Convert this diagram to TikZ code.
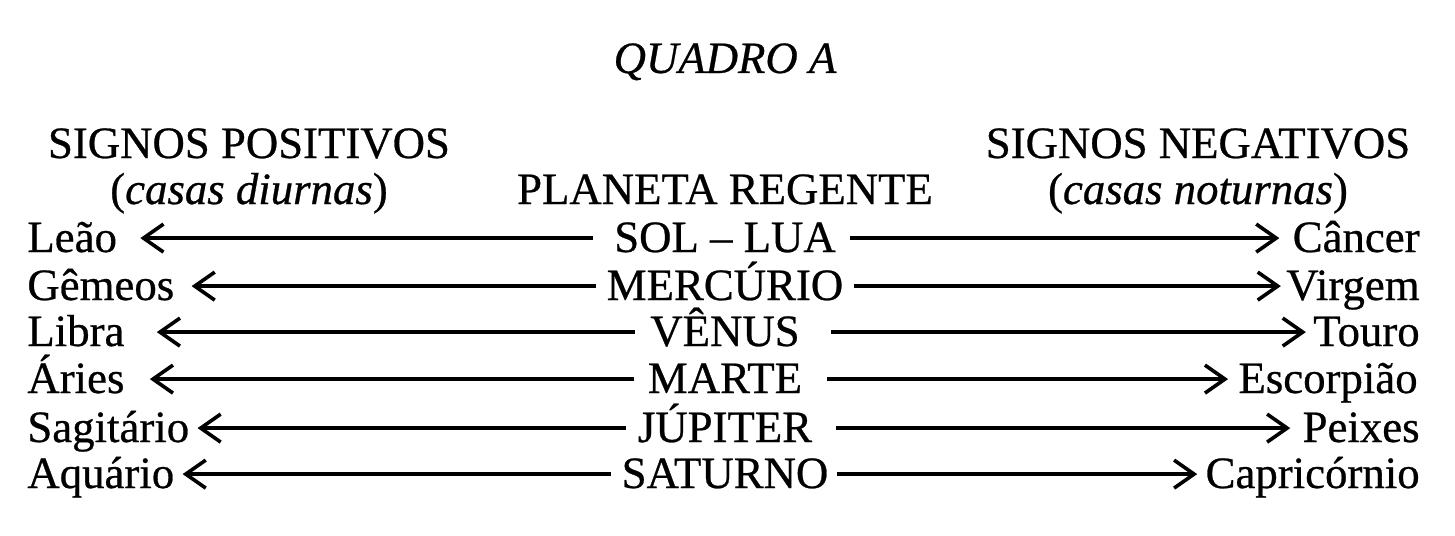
\documentclass[tikz,border=0pt]{standalone}
\usepackage{fontspec}
\setmainfont{Liberation Serif}[FakeBold=0.6]
\usetikzlibrary{arrows.meta}

\begin{document}
\begin{tikzpicture}[x=0.5pt,y=-0.5pt,
		every node/.style={font=\fontsize{22.4pt}{27pt}\selectfont,inner sep=0pt},
		signo/.style={text height=16.8pt,text depth=2.9pt},
		seta/.style={-{Straight Barb[length=10pt,width=14pt]},line width=1.8pt}]
		\useasboundingbox (0,0) rectangle (1455,535);

		% Titulo
		\node[anchor=base] (titulo) at (725,73) {\itshape QUADRO A};

		% Cabecalhos
		\node[anchor=base] (pos) at (249,158) {SIGNOS POSITIVOS};
		\node[anchor=base] (neg) at (1198,158) {SIGNOS NEGATIVOS};
		\node[anchor=base] (diurnas) at (249,204) {(\textit{casas diurnas})};
		\node[anchor=base] (regente) at (725,204) {PLANETA REGENTE};
		\node[anchor=base] (noturnas) at (1198,204) {(\textit{casas noturnas})};

		% Sol - Lua
		\node[signo,anchor=base west] (leao) at (27,252) {Leão};
		\node[signo,anchor=base] (sol) at (725,252) {SOL -- LUA};
		\node[signo,anchor=base east] (cancer) at (1420,252) {Câncer};
		\draw[seta,shorten <=10.5pt,shorten >=11.5pt] (sol) -- (leao);
		\draw[seta,shorten <=7pt,shorten >=6.5pt] (sol) -- (cancer);

		% Mercurio
		\node[signo,anchor=base west] (gemeos) at (27,300) {Gêmeos};
		\node[signo,anchor=base] (mercurio) at (725,300) {MERCÚRIO};
		\node[signo,anchor=base east] (virgem) at (1420,300) {Virgem};
		\draw[seta,shorten <=5pt,shorten >=8.5pt] (mercurio) -- (gemeos);
		\draw[seta,shorten <=5pt,shorten >=2.5pt] (mercurio) -- (virgem);

		% Venus
		\node[signo,anchor=base west] (libra) at (27,346) {Libra};
		\node[signo,anchor=base] (venus) at (725,346) {VÊNUS};
		\node[signo,anchor=base east] (touro) at (1420,346) {Touro};
		\draw[seta,shorten <=7.5pt,shorten >=16pt] (venus) -- (libra);
		\draw[seta,shorten <=15.5pt,shorten >=3.5pt] (venus) -- (touro);

		% Marte
		\node[signo,anchor=base west] (aries) at (27,393) {Áries};
		\node[signo,anchor=base] (marte) at (725,393) {MARTE};
		\node[signo,anchor=base east] (escorpiao) at (1418,393) {Escorpião};
		\draw[seta,shorten <=7pt,shorten >=12.5pt] (marte) -- (aries);
		\draw[seta,shorten <=12.5pt,shorten >=5pt] (marte) -- (escorpiao);

		% Jupiter
		\node[signo,anchor=base west] (sagitario) at (27,442) {Sagitário};
		\node[signo,anchor=base] (jupiter) at (725,442) {JÚPITER};
		\node[signo,anchor=base east] (peixes) at (1420,442) {Peixes};
		\draw[seta,shorten <=5.5pt,shorten >=4pt] (jupiter) -- (sagitario);
		\draw[seta,shorten <=11.5pt,shorten >=6pt] (jupiter) -- (peixes);

		% Saturno
		\node[signo,anchor=base west] (aquario) at (27,488) {Aquário};
		\node[signo,anchor=base] (saturno) at (725,488) {SATURNO};
		\node[signo,anchor=base east] (capricornio) at (1420,488) {Capricórnio};
		\draw[seta,shorten <=5pt,shorten >=4pt] (saturno) -- (aquario);
		\draw[seta,shorten <=4pt,shorten >=4pt] (saturno) -- (capricornio);
	\end{tikzpicture}
\end{document}
